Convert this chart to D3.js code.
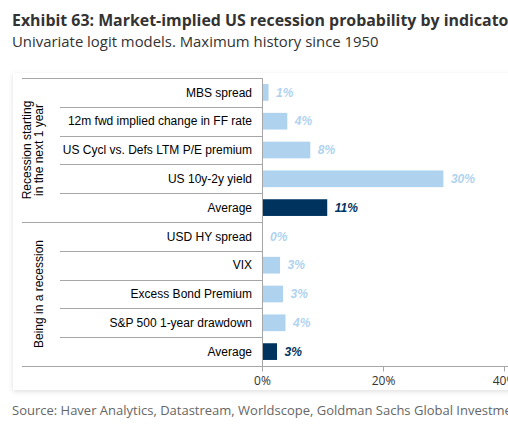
<!DOCTYPE html>
<html>
<head>
<meta charset="utf-8">
<script src="https://cdn.jsdelivr.net/npm/d3@7"></script>
<style>
  html, body { margin: 0; padding: 0; background: #ffffff; }
  svg { display: block; }
</style>
</head>
<body>
<svg id="chart" width="508" height="424"></svg>
<script>
// ---- Data ----
const groupNames = ["Recession starting|in the next 1 year", "Being in a recession"];
const categories1 = ["MBS spread", "12m fwd implied change in FF rate", "US Cycl vs. Defs LTM P/E premium", "US 10y-2y yield", "Average"];
const values1 = [1.0, 4.1, 7.9, 29.9, 10.7];
const labels1 = ["1%", "4%", "8%", "30%", "11%"];
const categories2 = ["USD HY spread", "VIX", "Excess Bond Premium", "S&P 500 1-year drawdown", "Average"];
const values2 = [0.0, 2.9, 3.4, 3.8, 2.4];
const labels2 = ["0%", "3%", "3%", "4%", "3%"];
const xTicks = [0, 20, 40];
const xTickLabels = ["0%", "20%", "40%"];

const titleText = "Exhibit 63: Market-implied US recession probability by indicator";
const subtitleText = "Univariate logit models. Maximum history since 1950";
const sourceText = "Source: Haver Analytics, Datastream, Worldscope, Goldman Sachs Global Investment Research";

// ---- Build rows ----
const rows = [];
categories1.forEach((c, i) => rows.push({ id: "g1-" + i, group: 0, name: c, value: values1[i], label: labels1[i], avg: c === "Average", idx: i }));
categories2.forEach((c, i) => rows.push({ id: "g2-" + i, group: 1, name: c, value: values2[i], label: labels2[i], avg: c === "Average", idx: i }));

const svg = d3.select("#chart");
const humanist = "'Open Sans', 'Noto Sans', sans-serif";
const arial = "'Liberation Sans', Arial, sans-serif";

// card with shadow
const defs = svg.append("defs");
const f = defs.append("filter").attr("id", "shadow").attr("x", "-5%").attr("y", "-5%").attr("width", "110%").attr("height", "115%");
f.append("feDropShadow").attr("dx", 0).attr("dy", 1.5).attr("stdDeviation", 2.5).attr("flood-color", "#000").attr("flood-opacity", 0.13);
svg.append("rect").attr("x", 13).attr("y", 73).attr("width", 520).attr("height", 317)
  .attr("fill", "#ffffff").attr("filter", "url(#shadow)");

// titles
svg.append("text").attr("x", 12).attr("y", 26.3).attr("font-family", humanist).attr("font-weight", 700)
  .attr("font-size", 15.9).attr("fill", "#333").text(titleText);
svg.append("text").attr("x", 12).attr("y", 47).attr("font-family", humanist)
  .attr("font-size", 14.9).attr("fill", "#333").text(subtitleText);
svg.append("text").attr("x", 12).attr("y", 415).attr("font-family", humanist)
  .attr("font-size", 13).attr("fill", "#666").text(sourceText);

// scales
const x = d3.scaleLinear().domain([0, 40]).range([262, 504]);
const y = d3.scaleBand().domain(rows.map(d => d.id)).range([78, 366]).paddingInner(0.42).paddingOuter(0.21);
const step = y.step();

const lineColor = "#a6a6a6";
const light = "#afd3ef";
const dark = "#00345f";

// top line
svg.append("line").attr("x1", 22).attr("x2", x(0)).attr("y1", 78.5).attr("y2", 78.5).attr("stroke", lineColor);
// row separators
rows.forEach((d, i) => {
  const yy = Math.round(78 + (i + 1) * step) + 0.5;
  const full = d.idx === 4;
  svg.append("line").attr("x1", full ? 22 : 60).attr("x2", x(0)).attr("y1", yy).attr("y2", yy).attr("stroke", lineColor);
});

// bars
svg.append("g").selectAll("rect").data(rows).join("rect")
  .attr("x", x(0) + 0.5)
  .attr("y", d => y(d.id))
  .attr("width", d => Math.max(0, x(d.value) - x(0)))
  .attr("height", y.bandwidth())
  .attr("fill", d => d.avg ? dark : light);

// value labels
svg.append("g").selectAll("text").data(rows).join("text")
  .attr("x", d => x(d.value) + 8)
  .attr("y", d => y(d.id) + y.bandwidth() / 2)
  .attr("dy", "0.35em")
  .attr("font-family", arial).attr("font-size", 12).attr("font-weight", 700).attr("font-style", "italic")
  .attr("fill", d => d.avg ? dark : light)
  .text(d => d.label);

// category labels
svg.append("g").selectAll("text").data(rows).join("text")
  .attr("x", 252)
  .attr("y", d => y(d.id) + y.bandwidth() / 2)
  .attr("dy", "0.35em")
  .attr("text-anchor", "end")
  .attr("font-family", arial).attr("font-size", 12).attr("fill", "#000")
  .text(d => d.name);

// group labels (rotated)
groupNames.forEach((g, gi) => {
  const ids = rows.filter(r => r.group === gi).map(r => r.id);
  const top = 78 + rows.findIndex(r => r.id === ids[0]) * step;
  const cy = top + ids.length * step / 2;
  const lines = g.split("|");
  lines.forEach((ln, li) => {
    const cx = 43 - (lines.length - 1 - li) * 12;
    svg.append("text")
      .attr("transform", `translate(${cx},${cy}) rotate(-90)`)
      .attr("text-anchor", "middle")
      .attr("font-family", arial).attr("font-size", 12).attr("fill", "#000")
      .text(ln);
  });
});

// y axis line
svg.append("line").attr("x1", x(0) + 0.5).attr("x2", x(0) + 0.5).attr("y1", 78).attr("y2", 366)
  .attr("stroke", lineColor);

// x axis
const xAxis = d3.axisBottom(x).tickValues(xTicks).tickFormat((d, i) => xTickLabels[i]).tickSize(5).tickSizeOuter(0);
const gx = svg.append("g").attr("transform", "translate(0,366.5)").call(xAxis);
gx.select(".domain").attr("stroke", lineColor).attr("d", `M${x(0)},0H${x(40) + 10}`);
gx.selectAll(".tick line").attr("stroke", lineColor);
gx.selectAll(".tick text").attr("font-family", humanist).attr("font-size", 12).attr("fill", "#333").attr("dy", "0.9em");
// left bottom line
svg.append("line").attr("x1", 22).attr("x2", x(0)).attr("y1", 366.5).attr("y2", 366.5).attr("stroke", lineColor);
</script>
</body>
</html>
